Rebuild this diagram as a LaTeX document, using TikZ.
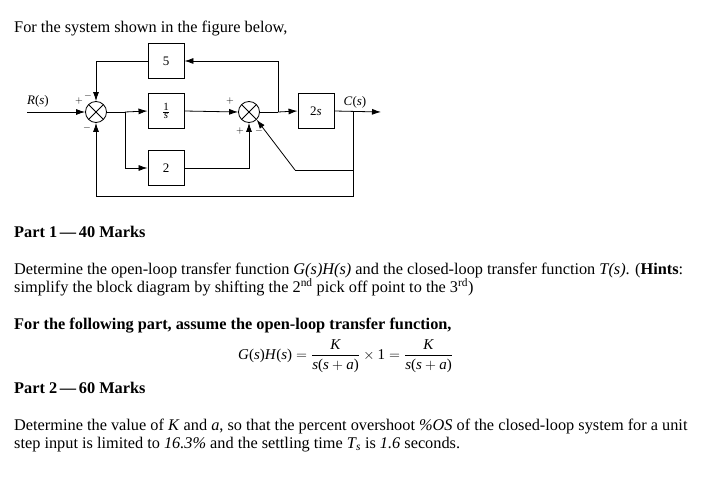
\documentclass[tikz,border=0pt]{standalone}
\usepackage{fontspec}
\setmainfont{Liberation Serif}
\usetikzlibrary{arrows.meta}
\newcommand{\ti}[1]{\textit{#1}}
\begin{document}
\begin{tikzpicture}[x=1pt,y=-1pt,
  blk/.style={draw,line width=0.9pt,minimum width=36pt,minimum height=35pt,inner sep=0pt,font=\fontsize{13}{13}\selectfont},
  sumj/.style={draw,line width=0.8pt,circle,minimum size=21pt,inner sep=0pt,path picture={\draw[line width=0.8pt] (path picture bounding box.north west)--(path picture bounding box.south east) (path picture bounding box.north east)--(path picture bounding box.south west);}},
  wire/.style={line width=0.8pt},
  arr/.style={wire,-{Latex[length=9pt,width=6pt]}},
  sg/.style={font=\fontsize{10}{10}\selectfont,inner sep=0pt},
  txt/.style={anchor=base west,inner sep=0pt,font=\fontsize{16.3}{19}\selectfont}]
\useasboundingbox (0,0) rectangle (716,484);
\node[sumj] (s1) at (96,112) {};
\node[sumj] (s2) at (249,112) {};
\node[blk] (b5) at (166,61) {5};
\node[blk] (b1) at (166,111) {\fontsize{11}{11}\selectfont$\frac{\textrm{1}}{\textit{s}}$};
\node[blk] (b2) at (166,168) {2};
\node[blk] (b3) at (316,111) {2\textit{s}};
\coordinate (in) at (27,112);
\coordinate (out) at (381,112);
\coordinate (p1) at (125,112);
\coordinate (p2) at (278,112);
\coordinate (p3) at (353,112);
\coordinate (d1) at (295,170);
\draw[arr] (in) -- (s1.west);
\draw[wire] (s1.east) -- (p1);
\draw[arr] (p1) -- (b1.west);
\draw[arr] (p1) |- (b2.west);
\draw[arr] (b1.east) -- (s2.west);
\draw[arr] (b2.east) -| (s2.south);
\draw[wire] (s2.east) -- (p2);
\draw[arr] (p2) -- (b3.west);
\draw[arr] (p2) |- (b5.east);
\draw[arr] (b5.west) -| (s1.north);
\draw[arr] (b3.east) -- (out);
\draw[arr] (p3) |- (96,196) -- (s1.south);
\draw[wire] (p3) |- (d1);
\draw[arr] (d1) -- (s2.south east);
\node[sg] at (79,101) {$+$};
\node[sg] at (88,96) {$-$};
\node[sg] at (87,128) {$-$};
\node[sg] at (230,101) {$+$};
\node[sg] at (240,131) {$+$};
\node[sg] at (259,131) {$-$};
\node[font=\fontsize{13}{13}\selectfont] (R) at (38,101) {\ti{R}(\ti{s})};
\node[font=\fontsize{13}{13}\selectfont] (C) at (355,102) {\ti{C}(\ti{s})};
\node[txt] (t0) at (14,33) {For the system shown in the figure below,};
\node[txt] (t1) at (14,238) {\textbf{Part 1\,—\,40 Marks}};
\node[txt] (t2) at (14,275) {Determine the open-loop transfer function \textit{G(s)H(s)} and the closed-loop transfer function \textit{T(s)}. (\textbf{Hints}:};
\node[txt] (t3) at (14,293) {simplify the block diagram by shifting the 2\textsuperscript{nd} pick off point to the 3\textsuperscript{rd})};
\node[txt] (t4) at (14,330) {\textbf{For the following part, assume the open-loop transfer function,}};
\node[anchor=west,inner sep=0pt,font=\fontsize{15}{15}\selectfont] (eq) at (238,356) {$\displaystyle \textrm{\ti{G}(\ti{s})\ti{H}(\ti{s})}=\frac{\textrm{\ti{K}}}{\textrm{\ti{s}(\ti{s}}+\textrm{\ti{a})}}\times\textrm{1}=\frac{\textrm{\ti{K}}}{\textrm{\ti{s}(\ti{s}}+\textrm{\ti{a})}}$};
\node[txt] (t5) at (14,393) {\textbf{Part 2\,—\,60 Marks}};
\node[txt] (t6) at (14,430) {Determine the value of \textit{K} and \textit{a}, so that the percent overshoot \textit{\%OS} of the closed-loop system for a unit};
\node[txt] (t7) at (14,448) {step input is limited to \textit{16.3\%} and the settling time \textit{T\textsubscript{s}} is \textit{1.6} seconds.};
\end{tikzpicture}
\end{document}
